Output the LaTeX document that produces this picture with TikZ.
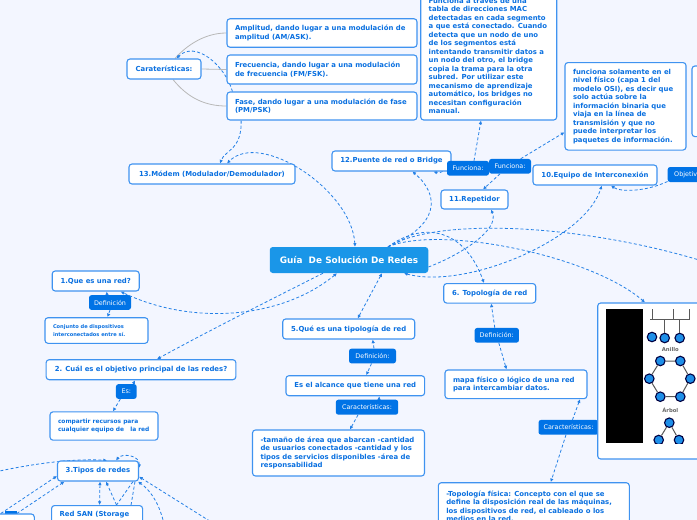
\documentclass[tikz,border=0pt]{standalone}
\usepackage{fontspec}
\setmainfont{DejaVu Sans}
\usetikzlibrary{arrows.meta, backgrounds}
\definecolor{pagebg}{HTML}{F3F6FF}
\definecolor{mapblue}{HTML}{0A70E0}
\definecolor{edgeblue}{HTML}{3F93F0}
\definecolor{labelblue}{HTML}{0073E6}
\definecolor{rootblue}{HTML}{1A96E8}
\definecolor{linkblue}{HTML}{2480E6}
\definecolor{bulletblue}{HTML}{1E8FE8}

\begin{document}
\begin{tikzpicture}[x=1pt,y=-1pt]
		\tikzset{topic/.style={draw=edgeblue,fill=white,rounded corners=3,line width=1.1,text=mapblue,font=\bfseries\fontsize{6.9}{8.5}\selectfont,align=left,inner sep=0,text badly ragged},
			single/.style={topic,align=center},
			tag/.style={fill=labelblue,rounded corners=2.5,text=white,font=\fontsize{6.4}{8}\selectfont,inner sep=0,minimum height=14.7},
			link/.style={draw=linkblue,line width=.8,dash pattern=on 3pt off 2.2pt,-{Latex[length=3.6pt,width=3.6pt]}},
			twoway/.style={link,{Latex[length=3.6pt,width=3.6pt]}-{Latex[length=3.6pt,width=3.6pt]}},
			plain/.style={link,-},
			branch/.style={draw=black!28,line width=.8},
			bullet/.style={circle,draw=black!75!blue,fill=bulletblue,line width=1.1,minimum size=9.5,inner sep=0},
			wire/.style={draw=black!65,line width=1}}
		\useasboundingbox (0,0) rectangle (697,520);

		\node [fill=rootblue,rounded corners=3,text=white,font=\bfseries\fontsize{8.9}{10}\selectfont,minimum width=158.5,minimum height=26,inner sep=0] (root) at (349,260) {Guía\ \ De Solución De Redes};

		% upper left
		\node [single,minimum width=74,minimum height=20] (carac) at (164,69) {Caraterísticas:};
		\node [topic,text width=174,minimum height=28.5,inner xsep=8] (ampl) at (322,33) {Amplitud, dando lugar a una modulación de\\amplitud (AM/ASK).};
		\node [topic,text width=174,minimum height=29,inner xsep=8] (frec) at (322,69.5) {Frecuencia, dando lugar a una modulación\\de frecuencia (FM/FSK).};
		\node [topic,text width=174,minimum height=28,inner xsep=8] (fase) at (322,106) {Fase, dando lugar a una modulación de fase\\(PM/PSK)};
		\node [single,minimum width=166,minimum height=20] (modem) at (212,174) {13.Módem (Modulador/Demodulador)};

		% upper right
		\node [single,minimum width=119,minimum height=20] (puente) at (391.5,161) {12.Puente de red o Bridge};
		\node [topic,text width=120,minimum height=128,inner xsep=8] (bridgetxt) at (488.7,56) {Funciona a través de una\\tabla de direcciones MAC\\detectadas en cada segmento\\a que está conectado. Cuando\\detecta que un nodo de uno\\de los segmentos está\\intentando transmitir datos a\\un nodo del otro, el bridge\\copia la trama para la otra\\subred. Por utilizar este\\mecanismo de aprendizaje\\automático, los bridges no\\necesitan configuración\\manual.};
		\node [topic,text width=105,minimum height=87.5,inner xsep=8] (fisico) at (625.5,106.3) {funciona solamente en el\\nivel físico (capa 1 del\\modelo OSI), es decir que\\solo actúa sobre la\\información binaria que\\viaja en la línea de\\transmisión y que no\\puede interpretar los\\paquetes de información.};
		\node [topic,minimum width=70,minimum height=70.7] (objtxt) at (727,101.3) {};
		\node [tag,minimum width=42] (fun1) at (468,168.3) {Funciona:};
		\node [tag,minimum width=42] (fun2) at (510,166.3) {Funciona:};
		\node [single,minimum width=124,minimum height=20] (equipo) at (595,175) {10.Equipo de Interconexión};
		\node [tag,minimum width=42,minimum height=15] (objetivo) at (688.7,174.5) {Objetivo:};
		\node [single,minimum width=67,minimum height=19] (repetidor) at (474.5,199.5) {11.Repetidor};

		% left column
		\node [single,minimum width=87,minimum height=20] (que) at (95.7,281) {1.Que es una red?};
		\node [tag,minimum width=42] (def1) at (110,302.5) {Definición};
		\node [topic,text width=87,minimum height=25.6,inner xsep=8,font=\bfseries\fontsize{5.1}{7.5}\selectfont] (conjunto) at (96.5,330.5) {Conjunto de dispositivos\\interconectados entre sí.};
		\node [single,minimum width=189.7,minimum height=20] (obj) at (141,369.7) {2. Cuál es el objetivo principal de las redes?};
		\node [tag,minimum width=20.7] (es) at (126.3,391.5) {Es:};
		\node [topic,text width=92,minimum height=28.3,inner xsep=8,font=\bfseries\fontsize{5.9}{8.5}\selectfont] (compartir) at (104,426) {compartir recursos para\\cualquier equipo de\ \ \ la red};
		\node [single,minimum width=81,minimum height=20] (tipos) at (98,471) {3.Tipos de redes};
		\node [topic,anchor=north west,text width=75,inner xsep=8,inner ysep=6,text depth=30] (san) at (51,505) {Red SAN (Storage};
		\node [fill=labelblue,minimum width=12,minimum height=5,inner sep=0] (darktab) at (11,513) {};
		\node [topic,minimum width=94,minimum height=30] (leftbox) at (-12.7,529) {};

		% centre column
		\node [single,minimum width=132,minimum height=20] (quefive) at (348.7,329) {5.Qué es una tipología de red};
		\node [tag,minimum width=47] (def2) at (372.5,356) {Definición:};
		\node [single,minimum width=138.7,minimum height=20] (alcance) at (355.3,385.7) {Es el alcance que tiene una red};
		\node [tag,minimum width=62.3,minimum height=15] (carac2) at (367,407.2) {Características:};
		\node [topic,text width=156,minimum height=46,inner xsep=8] (tamano) at (338.5,453) {-tamaño de área que abarcan -cantidad\\de usuarios conectados -cantidad y los\\tipos de servicios disponibles -área de\\responsabilidad};

		% right column
		\node [single,minimum width=92,minimum height=19.5] (toposix) at (489.7,293.3) {6. Topología de red};
		\node [tag,minimum width=44.3] (def3) at (496.8,335.3) {Definición:};
		\node [topic,text width=126,minimum height=28.7,inner xsep=8] (mapa) at (516,384.3) {mapa físico o lógico de una red\\para intercambiar datos.};
		\node [tag,minimum width=60] (carac3) at (568.5,427.3) {Características:};
		\node [topic,text width=175,minimum height=47,inner xsep=8] (topofis) at (533.8,506.2) {-Topología física: Concepto con el que se\\define la disposición real de las máquinas,\\los dispositivos de red, el cableado o los\\medios en la red.};

		% picture of the networks
		\node [topic,minimum width=110,minimum height=156] (imgbox) at (652.7,381) {};
		\fill (606,309) rectangle (642.7,443);
		\draw [wire] (650,319.3) -- (690,319.3) (652,309) -- (652,319.3) (673,309) -- (673,319.3) (689,309) -- (689,319.3);
		\node [bullet] (busa) at (652,337) {};
		\node [bullet] (busb) at (664.7,338) {};
		\node [bullet] (busc) at (679.7,338) {};
		\draw [wire] (664.7,319.3) -- (busb) (679.7,319.3) -- (busc);
		\node [text=black!60,font=\bfseries\fontsize{5.3}{6}\selectfont,inner sep=0] (anillo) at (670.3,350) {Anillo};
		\foreach \nm/\px/\py in {ra/660.3/361,rb/680.3/361,rc/690.3/378.7,rd/680.3/396.7,re/660.3/396.7,rf/649.3/378.7}
			\node [bullet] (\nm) at (\px,\py) {};
		\draw [wire] (ra) -- (rb) -- (rc) -- (rd) -- (re) -- (rf) -- (ra);
		\node [text=black!60,font=\bfseries\fontsize{5.3}{6}\selectfont,inner sep=0] (arbol) at (670.3,410.3) {Árbol};
		\begin{scope}
			\clip (643,404) rectangle (697,443);
			\node [bullet] (ta) at (669.3,422.7) {};
			\node [bullet] (tb) at (658.7,440) {};
			\node [bullet] (tc) at (679,440) {};
			\draw [wire] (tb) -- (ta) -- (tc);
		\end{scope}

		% free ends outside the page
		\coordinate (offright) at (730,270);
		\coordinate (offleft) at (-30,478);
		\coordinate (offsan) at (166,535);
		\coordinate (offdown) at (232,535);

		\begin{scope}[on background layer]
			\fill [pagebg] (0,0) rectangle (697,520);
			\draw [branch] (ampl.west) .. controls (205,33) and (187,45) .. ([xshift=11]carac.north);
			\draw [branch] (carac.east) -- (frec.west);
			\draw [branch] (fase.west) .. controls (205,106) and (188,98) .. ([xshift=9]carac.south);

			\draw [link] ([xshift=6]fase.north west) .. controls (225,65) and (195,40) .. ([xshift=50]carac.north west);
			\draw [link] ([xshift=14.7]fase.south west) .. controls (242,150) and (225,150) .. ([xshift=8]modem.north);
			\draw [twoway] ([xshift=6]root.north) .. controls (352,190) and (260,130) .. ([xshift=15]modem.north);

			\draw [link] ([xshift=39]root.north) .. controls (440,225) and (590,255) .. ([xshift=-7.7]imgbox.north);
			\draw [link] ([xshift=39]root.north) .. controls (440,215) and (600,225) .. (offright);
			\draw [link] ([xshift=39]root.north) .. controls (425,220) and (465,230) .. ([xshift=-5.7]toposix.north);
			\draw [link] ([xshift=39]root.north) .. controls (440,225) and (440,195) .. ([xshift=81]puente.south west);
			\draw [link] ([yshift=-7]root.east) .. controls (460,255) and (500,230) .. ([xshift=16.5]repetidor.south);
			\draw [twoway] ([xshift=55]root.south) .. controls (465,290) and (585,240) .. ([xshift=6.7]equipo.south);

			\draw [twoway] ([xshift=-12]root.south) .. controls (280,320) and (190,325) .. ([xshift=25]que.south);
			\draw [link] ([xshift=-26]root.south) .. controls (280,295) and (210,330) .. ([xshift=16]obj.north);
			\draw [twoway] ([xshift=33]root.south) -- ([xshift=9]quefive.north);

			\draw [link] (fun1.west) .. controls (442,173) and (438,173) .. ([xshift=102]puente.south west);
			\draw [link] ([xshift=6]fun1.north) -- ([xshift=-7.7]bridgetxt.south);
			\draw [link] ([xshift=-10]fun2.south) -- ([xshift=8.5]repetidor.north);
			\draw [link] ([xshift=10.7]fun2.north) -- ([yshift=-26]fisico.west);
			\draw [link] ([yshift=-7]objetivo.west) .. controls (645,192) and (620,192) .. ([xshift=16]equipo.south);

			\draw [link] ([xshift=-3]def1.north) -- ([xshift=11]que.south);
			\draw [link] (def1.south) -- ([xshift=11]conjunto.north);
			\draw [link] ([xshift=7]es.north) -- ([xshift=-6]obj.south);
			\draw [link] ([xshift=-6]es.south) -- ([xshift=9]compartir.north);

			\draw [link] (offleft) .. controls (20,465) and (70,458) .. ([xshift=9]tipos.north);
			\draw [twoway] ([yshift=3]tipos.east) .. controls (140,455) and (122,453) .. ([xshift=18]tipos.north);
			\draw [twoway] ([xshift=2]tipos.south) -- ([xshift=2.5]san.north);
			\draw [link] ([xshift=19.5]san.north) -- ([xshift=8]tipos.south);
			\draw [plain] ([xshift=35]tipos.south) -- ([xshift=19.5]san.north);
			\draw [plain] ([xshift=37]tipos.south) -- ([xshift=34]san.north);
			\draw [link] (offsan) .. controls (162,505) and (150,490) .. ([xshift=40]tipos.south);
			\draw [link] (offdown) -- ([yshift=-5.7]tipos.east);
			\draw [link] ([xshift=-34]leftbox.north east) -- ([yshift=-5]tipos.west);
			\draw [link] ([xshift=-18]leftbox.north east) -- ([xshift=7.5]tipos.south west);

			\draw [link] ([xshift=1.5]def2.north) -- ([xshift=24]quefive.south);
			\draw [link] ([xshift=-1]def2.south) -- ([xshift=11]alcance.north);
			\draw [link] ([xshift=12]carac2.north) -- ([xshift=24]alcance.south);
			\draw [link] ([xshift=-9]carac2.south) -- ([xshift=11.5]tamano.north);
			\draw [link] ([xshift=-2]def3.north) -- ([xshift=1.5]toposix.south);
			\draw [link] ([xshift=2]def3.south) -- ([xshift=-9.5]mapa.north);
			\draw [link] ([xshift=4]carac3.north) -- ([xshift=64]mapa.south);
			\draw [link] ([xshift=-2.5]carac3.south) -- ([xshift=17]topofis.north);
		\end{scope}
\end{tikzpicture}
\end{document}
